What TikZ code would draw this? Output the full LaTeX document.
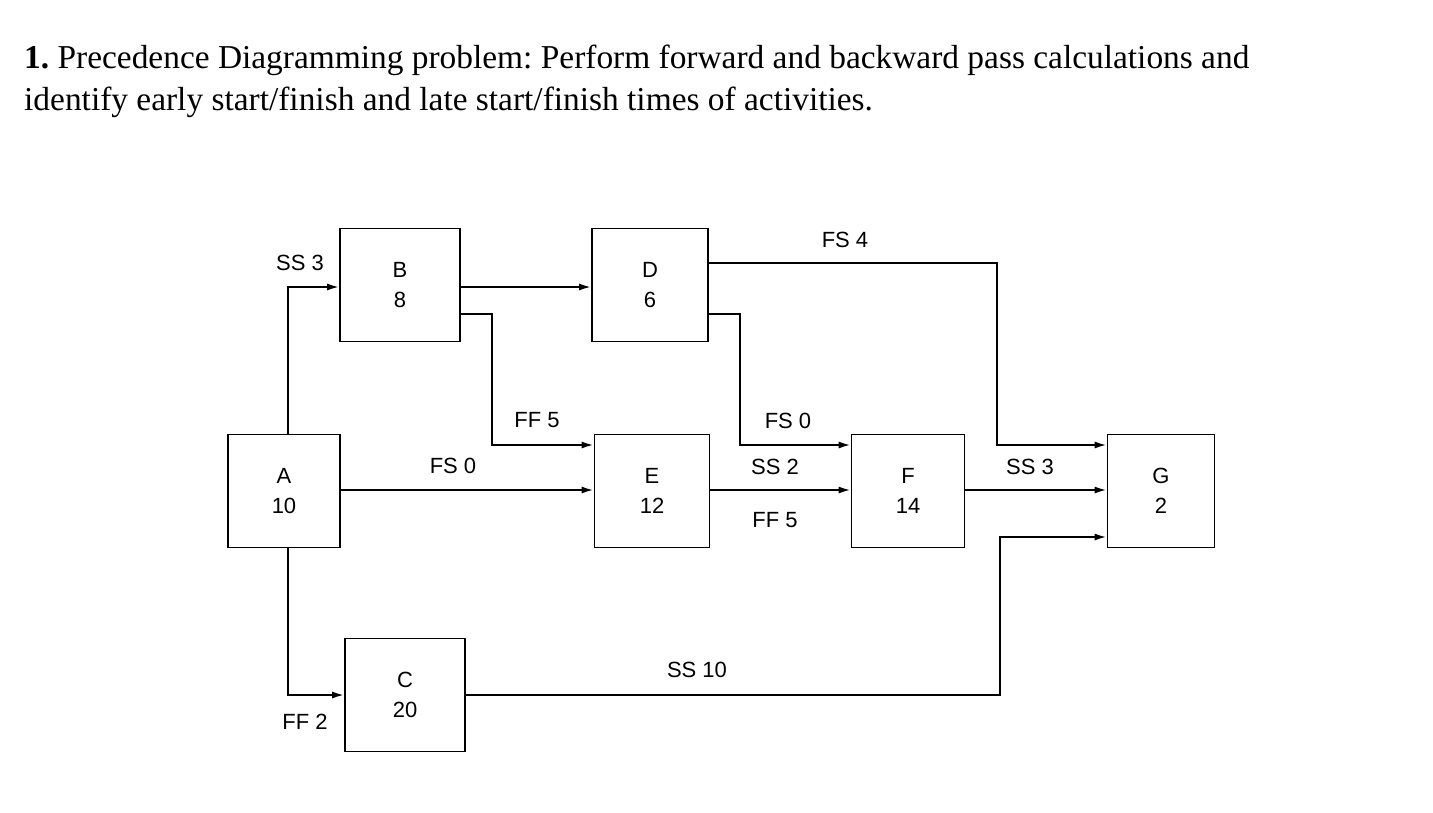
\documentclass[tikz,border=0pt]{standalone}
\usepackage{fontspec}
\setmainfont{Liberation Serif}
\newfontfamily\lab{Liberation Sans}
\usetikzlibrary{arrows.meta}
\frenchspacing
\begin{document}
\begin{tikzpicture}[x=1pt,y=-1pt,
  act/.style={draw,line width=1.6pt,inner sep=0pt,minimum width=#1,minimum height=113pt,align=center,font=\lab\fontsize{22}{30}\selectfont},
  conn/.style={line width=2pt,-{Latex[length=12pt,width=7pt]}},
  lbl/.style={font=\lab\fontsize{22}{24}\selectfont,inner sep=0pt}]
\useasboundingbox (0,0) rectangle (1433,812);
\node[anchor=base west,inner sep=0pt,font=\fontsize{33.4}{38}\selectfont] (t1) at (24,68) {\textbf{1.} Precedence Diagramming problem: Perform forward and backward pass calculations and};
\node[anchor=base west,inner sep=0pt,font=\fontsize{33.4}{38}\selectfont] (t2) at (24,110) {identify early start/finish and late start/finish times of activities.};
\node[act=112pt] (A) at (284,491) {A\\10};
\node[act=120pt] (B) at (400,285) {B\\8};
\node[act=116pt] (D) at (650,285) {D\\6};
\node[act=115pt] (E) at (652,491) {E\\12};
\node[act=113pt] (F) at (908,491) {F\\14};
\node[act=107pt] (G) at (1161,491) {G\\2};
\node[act=120pt] (C) at (405,695) {C\\20};
\draw[conn] (A.north -| 288,0) |- (B.west |- 0,287);
\draw[conn] (A.south -| 288,0) |- (C.west |- 0,695);
\draw[conn] (A.east |- 0,490) -- (E.west |- 0,490);
\draw[conn] (B.east |- 0,287) -- (D.west |- 0,287);
\draw[conn] (B.east |- 0,314) -- (492,314) |- (E.west |- 0,445);
\draw[conn] (D.east |- 0,263) -- (997,263) |- (G.west |- 0,445);
\draw[conn] (D.east |- 0,314) -- (740,314) |- (F.west |- 0,445);
\draw[conn] (E.east |- 0,490) -- (F.west |- 0,490);
\draw[conn] (F.east |- 0,490) -- (G.west |- 0,490);
\draw[conn] (C.east |- 0,695) -- (1000,695) |- (G.west |- 0,537);
\node[lbl] (l1) at (300,263) {SS 3};
\node[lbl] (l2) at (305,722) {FF 2};
\node[lbl] (l3) at (453,466) {FS 0};
\node[lbl] (l4) at (537,420) {FF 5};
\node[lbl] (l5) at (845,240) {FS 4};
\node[lbl] (l6) at (788,421) {FS 0};
\node[lbl] (l7) at (775,467) {SS 2};
\node[lbl] (l8) at (775,520) {FF 5};
\node[lbl] (l9) at (1030,467) {SS 3};
\node[lbl] (l10) at (697,670) {SS 10};
\end{tikzpicture}
\end{document}
